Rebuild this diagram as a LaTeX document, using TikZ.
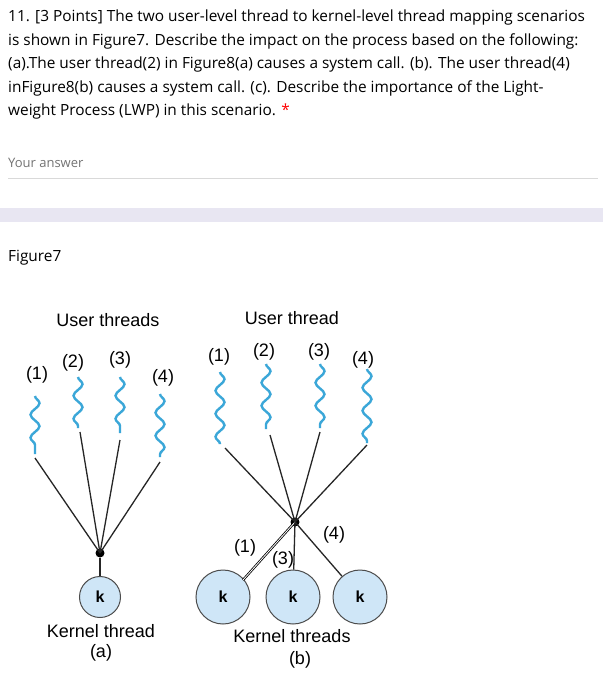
\documentclass[tikz,border=0pt]{standalone}
\usepackage{fontspec}
\setmainfont{Open Sans}
\newfontfamily\figfont{Liberation Sans}
\usetikzlibrary{decorations.pathmorphing}
\definecolor{wave}{HTML}{3BA7D8}
\definecolor{kfill}{HTML}{CFE6F7}
\definecolor{band}{HTML}{E8E6F2}
\tikzset{
  qtext/.style={anchor=west,font=\fontsize{15.4}{17}\selectfont,inner sep=0pt},
  ftext/.style={font=\figfont\fontsize{18}{20}\selectfont,inner sep=0pt},
  wavy/.style={wave,line width=2.4pt,decorate,decoration={snake,segment length=23pt,amplitude=4.5pt}},
  conn/.style={line width=1.3pt,black!85},
  kcirc/.style={circle,draw=black!70,fill=kfill,line width=1pt,font=\figfont\bfseries\fontsize{16}{18}\selectfont},
  hub/.style={circle,fill=black,inner sep=0pt,minimum size=9pt}
}
\begin{document}
\begin{tikzpicture}[x=1pt,y=-1pt]
\useasboundingbox (0,0) rectangle (603,678);
\fill[white] (0,0) rectangle (603,678);
\node[qtext] (l1) at (8,17) {11. [3 Points] The two user-level thread to kernel-level thread mapping scenarios};
\node[qtext] (l2) at (8,41) {is shown in Figure7. Describe the impact on the process based on the following:};
\node[qtext] (l3) at (8,64) {(a).The user thread(2) in Figure8(a) causes a system call. (b). The user thread(4)};
\node[qtext] (l4) at (8,88) {inFigure8(b) causes a system call. (c). Describe the importance of the Light-};
\node[qtext] (l5) at (8,111) {weight Process (LWP) in this scenario. \textcolor{red}{*}};
\node[qtext,text=black!55,font=\fontsize{13}{15}\selectfont] (ya) at (8,163) {Your answer};
\draw[black!15] (8,178) -- (598,178);
\fill[band] (0,208) rectangle (603,222);
\node[qtext] (f7) at (8,258) {Figure7};
% (a)
\node[ftext] (uta) at (108,320) {User threads};
\foreach \n/\x/\ya/\yb/\lx/\ly/\ex/\ey in {1/35/396/454/37/375/35/458, 2/78/377/428/73/363/80/432, 3/120/377/433/120/360/120/440, 4/160/394/457/163/378/160/462}{
  \draw[wavy] (\x,\ya) -- (\x,\yb);
  \node[ftext] (la\n) at (\lx,\ly) {(\n)};
  \coordinate (ea\n) at (\ex,\ey);
}
\node[hub] (ha) at (100,553) {};
\foreach \n in {1,...,4} \draw[conn] (ea\n) -- (ha.center);
\node[kcirc,minimum size=41pt] (ka) at (100,597) {k};
\draw[conn] (ha) -- (ka);
\node[ftext] (kta) at (101,631) {Kernel thread};
\node[ftext] (ca) at (101,653) {(a)};
% (b)
\node[ftext] (utb) at (292,318) {User thread};
\foreach \n/\x/\ya/\yb/\lx/\ly/\ex/\ey in {1/220/372/444/219/357/225/448, 2/266/364/429/264/352/270/435, 3/320/364/428/319/352/320/432, 4/367/369/443/363/360/367/445}{
  \draw[wavy] (\x,\ya) -- (\x,\yb);
  \node[ftext] (lb\n) at (\lx,\ly) {(\n)};
  \coordinate (eb\n) at (\ex,\ey);
}
\node[hub] (hb) at (295,522) {};
\foreach \n in {1,...,4} \draw[conn] (eb\n) -- (hb.center);
\node[kcirc,minimum size=54pt] (kb1) at (223,597) {k};
\node[kcirc,minimum size=54pt] (kb2) at (293,597) {k};
\node[kcirc,minimum size=54pt] (kb3) at (360,597) {k};
\draw[black,double=white,double distance=0.8pt,line width=0.8pt] (hb.center) -- (243,580);
\draw[conn] (hb.center) -- (kb2);
\draw[conn] (hb.center) -- (kb3);
\node[ftext] (lk1) at (245,548) {(1)};
\node[ftext] (lk3) at (283,560) {(3)};
\node[ftext] (lk4) at (334,535) {(4)};
\node[ftext] (ktb) at (292,636) {Kernel threads};
\node[ftext] (cb) at (300,660) {(b)};
\end{tikzpicture}
\end{document}
